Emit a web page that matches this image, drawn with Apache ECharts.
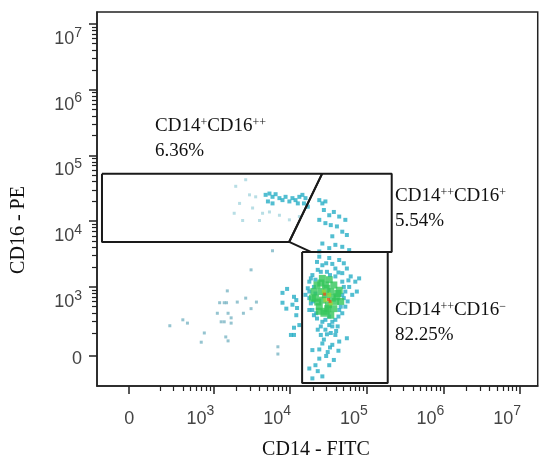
<!DOCTYPE html>
<html>
<head>
<meta charset="utf-8">
<script src="https://cdn.jsdelivr.net/npm/echarts@6/dist/echarts.min.js"></script>
<style>
html,body{margin:0;padding:0;background:#fff;}
#chart{width:550px;height:468px;}
</style>
</head>
<body>
<div id="chart"></div>
<script>
// Axis positions are in "decade" display units (biexponential display: 0 sits just below 10^2)
const xMajorTicks = [1.90, 3, 4, 5, 6, 7];
const yMajorTicks = [1.95, 3, 4, 5, 6, 7];
const xTickLabels = ['0', '3', '4', '5', '6', '7'];
const yTickLabels = ['0', '3', '4', '5', '6', '7'];

const xTitle = 'CD14 - FITC';
const yTitle = 'CD16 - PE';

// Gates (polygons, display units)
const gateCD16pp = [[1.545,4.719],[4.416,4.719],[3.987,3.684],[1.545,3.684],[1.545,4.719]];
const gateCD16p  = [[4.416,4.719],[5.325,4.719],[5.325,3.532],[4.27,3.532],[3.987,3.684],[4.416,4.719]];
const gateCD16n  = [[4.156,3.532],[5.273,3.532],[5.273,1.540],[4.156,1.540],[4.156,3.532]];

const gateLabels = ['CD14+CD16++', 'CD14++CD16+', 'CD14++CD16-'];
const gatePercents = ['6.36%', '5.54%', '82.25%'];

// Events, by density colour class
const faintPts = [[3.29,4.53],[3.42,4.63],[3.47,4.40],[3.55,4.37],[3.34,4.27],[3.51,4.20],[3.27,4.12],
  [3.38,4.01],[3.64,4.12],[3.73,4.14],[3.86,4.09],[3.99,4.02],[4.12,4.07],[3.60,4.01]];
const sparsePts = [[3.49,3.26],[3.18,2.94],[3.08,2.76],[3.14,2.76],[3.17,2.76],[3.31,2.77],[3.42,2.83],
  [3.56,2.77],[3.05,2.60],[3.19,2.60],[3.39,2.60],[3.49,2.67],[3.23,2.53],[3.10,2.47],[3.14,2.47],
  [3.23,2.45],[2.60,2.50],[2.66,2.45],[2.43,2.41],[2.88,2.30],[3.16,2.24],[3.19,2.18],[2.84,2.16],
  [3.84,2.09],[3.84,1.98],[3.77,3.55]];
const cyanPts = [
  // upper arc
  [3.68,4.40],[3.73,4.42],[3.77,4.37],[3.81,4.41],[3.86,4.35],[3.90,4.32],[3.94,4.37],[3.99,4.30],
  [4.03,4.35],[4.07,4.32],[4.12,4.37],[4.16,4.40],[4.20,4.35],[4.10,4.27],[4.18,4.27],[4.23,4.22],
  [3.77,4.27],[3.71,4.30],
  // CD14++CD16+ gate
  [4.38,4.32],[4.42,4.27],[4.46,4.30],[4.44,4.17],[4.51,4.09],[4.57,4.14],[4.64,4.07],[4.38,4.02],
  [4.46,3.97],[4.53,3.94],[4.61,3.92],[4.72,4.02],[4.68,3.84],[4.55,3.77],[4.74,3.79],[4.42,3.66],
  [4.59,3.64],[4.51,3.59],[4.68,3.61],[4.77,3.56],[4.38,3.54],
  // left edge of monocyte cluster
  [3.96,2.97],[3.90,2.91],[3.90,2.76],[3.95,2.67],[4.05,2.27],[4.05,2.85],[4.08,2.80],[4.03,2.73],
  [4.09,2.68],[4.08,2.57],[4.12,2.42],[4.05,2.38],[4.01,2.27],
  // cluster halo
  [4.38,3.46],[4.51,3.44],[4.64,3.41],[4.70,3.36],[4.42,3.33],[4.59,3.28],[4.74,3.28],[4.68,3.21],
  [4.79,3.16],[4.40,3.23],[4.29,3.18],[4.85,3.08],[4.77,3.00],[4.72,2.93],[4.81,2.88],[4.25,3.08],
  [4.23,2.98],[4.20,2.88],[4.27,2.75],[4.25,2.65],[4.31,2.57],[4.35,2.52],[4.42,2.47],[4.51,2.55],
  [4.59,2.50],[4.68,2.60],[4.72,2.70],[4.55,2.40],[4.46,2.35],[4.53,2.30],[4.40,2.27],[4.59,2.27],
  [4.55,2.12],[4.49,2.01],[4.29,2.04],[4.38,1.91],[4.74,2.22],[4.64,2.17],[4.42,2.14],[4.33,1.81],
  [4.25,1.76],[4.51,1.81],[4.57,1.89],[4.29,1.61],[4.42,1.64],[4.87,2.93],[4.90,3.13],
  [4.27,3.13],[4.68,3.08],[4.70,3.00],[4.68,2.88],[4.70,2.83],[4.25,2.93],[4.25,2.83],[4.29,2.65],
  [4.64,2.65],[4.46,2.50],[4.55,2.47],[4.33,3.11],[4.59,3.16],[4.48,3.23],[4.51,2.42],[4.40,2.40],
  [4.35,3.38],[4.47,3.36],[4.55,3.35],[4.63,3.22],[4.36,3.26],[4.52,3.18],[4.76,3.10],[4.31,3.00],
  [4.33,2.90],[4.30,2.78],[4.34,2.60],[4.63,2.55],[4.66,2.70],[4.75,2.78],[4.62,2.40],[4.48,2.28],
  [4.36,2.35],[4.60,2.33],[4.44,2.20],[4.52,2.08],[4.47,1.95],[4.38,2.05],[4.63,2.03],[4.36,1.72]
];
const greenPts = [[4.42,3.13],[4.51,3.11],[4.35,3.03],[4.46,3.03],[4.57,3.03],[4.64,2.95],[4.31,2.93],
  [4.40,2.93],[4.53,2.93],[4.61,2.85],[4.33,2.83],[4.42,2.80],[4.59,2.78],[4.38,2.70],[4.49,2.67],
  [4.57,2.67],[4.44,2.60],[4.53,2.57],[4.29,2.83],[4.66,2.78],[4.46,2.88],[4.55,2.83],[4.38,2.63],
  [4.48,2.98],[4.40,3.06],[4.36,2.77],[4.50,2.73],[4.62,2.90],[4.47,2.63]];
const brightPts = [[4.44,2.93],[4.51,2.88],[4.46,2.80],[4.53,2.75]];
const redPts = [[4.45,2.89],[4.50,2.81],[4.52,2.78]];

// minor (log) ticks
function minorTicks(from, to) {
  const out = [];
  for (let d = from; d <= to; d++) for (let k = 2; k <= 9; k++) out.push(d + Math.log10(k));
  return out;
}
const xMinor = minorTicks(2, 6);
const yMinor = minorTicks(2, 6);

const AX = '#222';
const LBL = '#444';
const sans = 'Liberation Sans';
const serif = 'Liberation Serif';

function fmtX(v) {
  const i = xMajorTicks.findIndex(t => Math.abs(t - v) < 1e-6);
  const lab = xTickLabels[i];
  if (lab === '0') return '{xb|0}';
  return '{xb|10}{xs|' + lab + '}{xp| }';
}
function fmtY(v) {
  const i = yMajorTicks.findIndex(t => Math.abs(t - v) < 1e-6);
  const lab = yTickLabels[i];
  if (lab === '0') return '{yz|0}';
  return '{yb|10}{ys|' + lab + '}';
}

const richX = {
  xb: {fontFamily: sans, fontSize: 18, color: LBL, lineHeight: 24, verticalAlign: 'bottom'},
  xs: {fontFamily: sans, fontSize: 14, color: LBL, lineHeight: 12, verticalAlign: 'top'},
  xp: {fontFamily: sans, fontSize: 14, color: LBL, lineHeight: 12, verticalAlign: 'top', width: 26}
};
const richY = {
  yz: {fontFamily: sans, fontSize: 18, color: LBL, lineHeight: 12, verticalAlign: 'bottom'},
  yb: {fontFamily: sans, fontSize: 18, color: LBL, lineHeight: 24, verticalAlign: 'bottom'},
  ys: {fontFamily: sans, fontSize: 14, color: LBL, lineHeight: 12, verticalAlign: 'top', padding: [2, 0, 0, 0]}
};

const xMin = 1.48, xMax = 7.23, yMin = 1.494, yMax = 7.18;

function scatter(data, color, size, z) {
  return {type: 'scatter', data, symbol: 'rect', symbolSize: size, itemStyle: {color}, z, silent: true, animation: false};
}
function gate(data) {
  return {type: 'line', data, symbol: 'none', lineStyle: {color: '#1a1a1a', width: 2}, z: 10, animation: false, silent: true};
}

function gateText(i) {
  const lab = gateLabels[i];
  const m = lab.match(/^CD14(\+*)CD16(.*)$/);
  const sup2 = m[2] === '-' ? '\u2212' : m[2];
  return '{n|CD14}{s|' + m[1] + '}{n|CD16}{s|' + sup2 + '}\n{n|' + gatePercents[i] + '}';
}
const gateRich = {
  n: {fontFamily: serif, fontSize: 19, lineHeight: 25, fill: '#111', color: '#111'},
  s: {fontFamily: serif, fontSize: 12, lineHeight: 12, fill: '#111', color: '#111', verticalAlign: 'top', padding: [3, 0, 0, 0]}
};

const chart = echarts.init(document.getElementById('chart'), null, {renderer: 'canvas'});
chart.setOption({
  animation: false,
  backgroundColor: '#fff',
  grid: {left: 97, right: 10, top: 12, bottom: 82, show: true, borderColor: AX, borderWidth: 1.5, backgroundColor: 'transparent'},
  xAxis: [
    {type: 'value', min: xMin, max: xMax, position: 'bottom',
      axisLine: {show: true, onZero: false, lineStyle: {color: AX, width: 1.5}},
      axisTick: {show: true, customValues: xMajorTicks, length: 8, lineStyle: {color: AX, width: 1.5}},
      axisLabel: {customValues: xMajorTicks, formatter: fmtX, rich: richX, margin: 18, verticalAlign: 'top'},
      splitLine: {show: false}},
    {type: 'value', min: xMin, max: xMax, position: 'bottom',
      axisLine: {show: false},
      axisTick: {show: true, customValues: xMinor, length: 5, lineStyle: {color: AX, width: 1.2}},
      axisLabel: {show: false}, splitLine: {show: false}}
  ],
  yAxis: [
    {type: 'value', min: yMin, max: yMax, position: 'left',
      axisLine: {show: true, onZero: false, lineStyle: {color: AX, width: 1.5}},
      axisTick: {show: true, customValues: yMajorTicks, length: 8, lineStyle: {color: AX, width: 1.5}},
      axisLabel: {customValues: yMajorTicks, formatter: fmtY, rich: richY, margin: 15, verticalAlign: 'top'},
      splitLine: {show: false}},
    {type: 'value', min: yMin, max: yMax, position: 'left',
      axisLine: {show: false},
      axisTick: {show: true, customValues: yMinor, length: 5, lineStyle: {color: AX, width: 1.2}},
      axisLabel: {show: false}, splitLine: {show: false}}
  ],
  series: [
    scatter(faintPts, '#a6d6df', 3, 2),
    scatter(sparsePts, '#7ab5c4', 3, 3),
    scatter(cyanPts, '#27aec6', 4, 4),
    scatter(greenPts, '#33c65a', 7, 5),
    scatter(brightPts, '#9ad63a', 4, 6),
    scatter(redPts, '#e4541e', 3, 7),
    gate(gateCD16pp),
    gate(gateCD16p),
    gate(gateCD16n)
  ],
  graphic: [
    {type: 'text', left: 155, top: 114, style: {text: gateText(0), rich: gateRich, fill: '#111'}},
    {type: 'text', left: 395, top: 184, style: {text: gateText(1), rich: gateRich, fill: '#111'}},
    {type: 'text', left: 395, top: 298, style: {text: gateText(2), rich: gateRich, fill: '#111'}},
    {type: 'text', x: 316, y: 450, style: {text: xTitle, font: '20px "Liberation Serif"', fill: '#111', textAlign: 'center', textVerticalAlign: 'middle'}},
    {type: 'text', x: 19, y: 230, rotation: Math.PI / 2, style: {text: yTitle, font: '20px "Liberation Serif"', fill: '#111', textAlign: 'center', textVerticalAlign: 'middle'}}
  ]
});
</script>
</body>
</html>
